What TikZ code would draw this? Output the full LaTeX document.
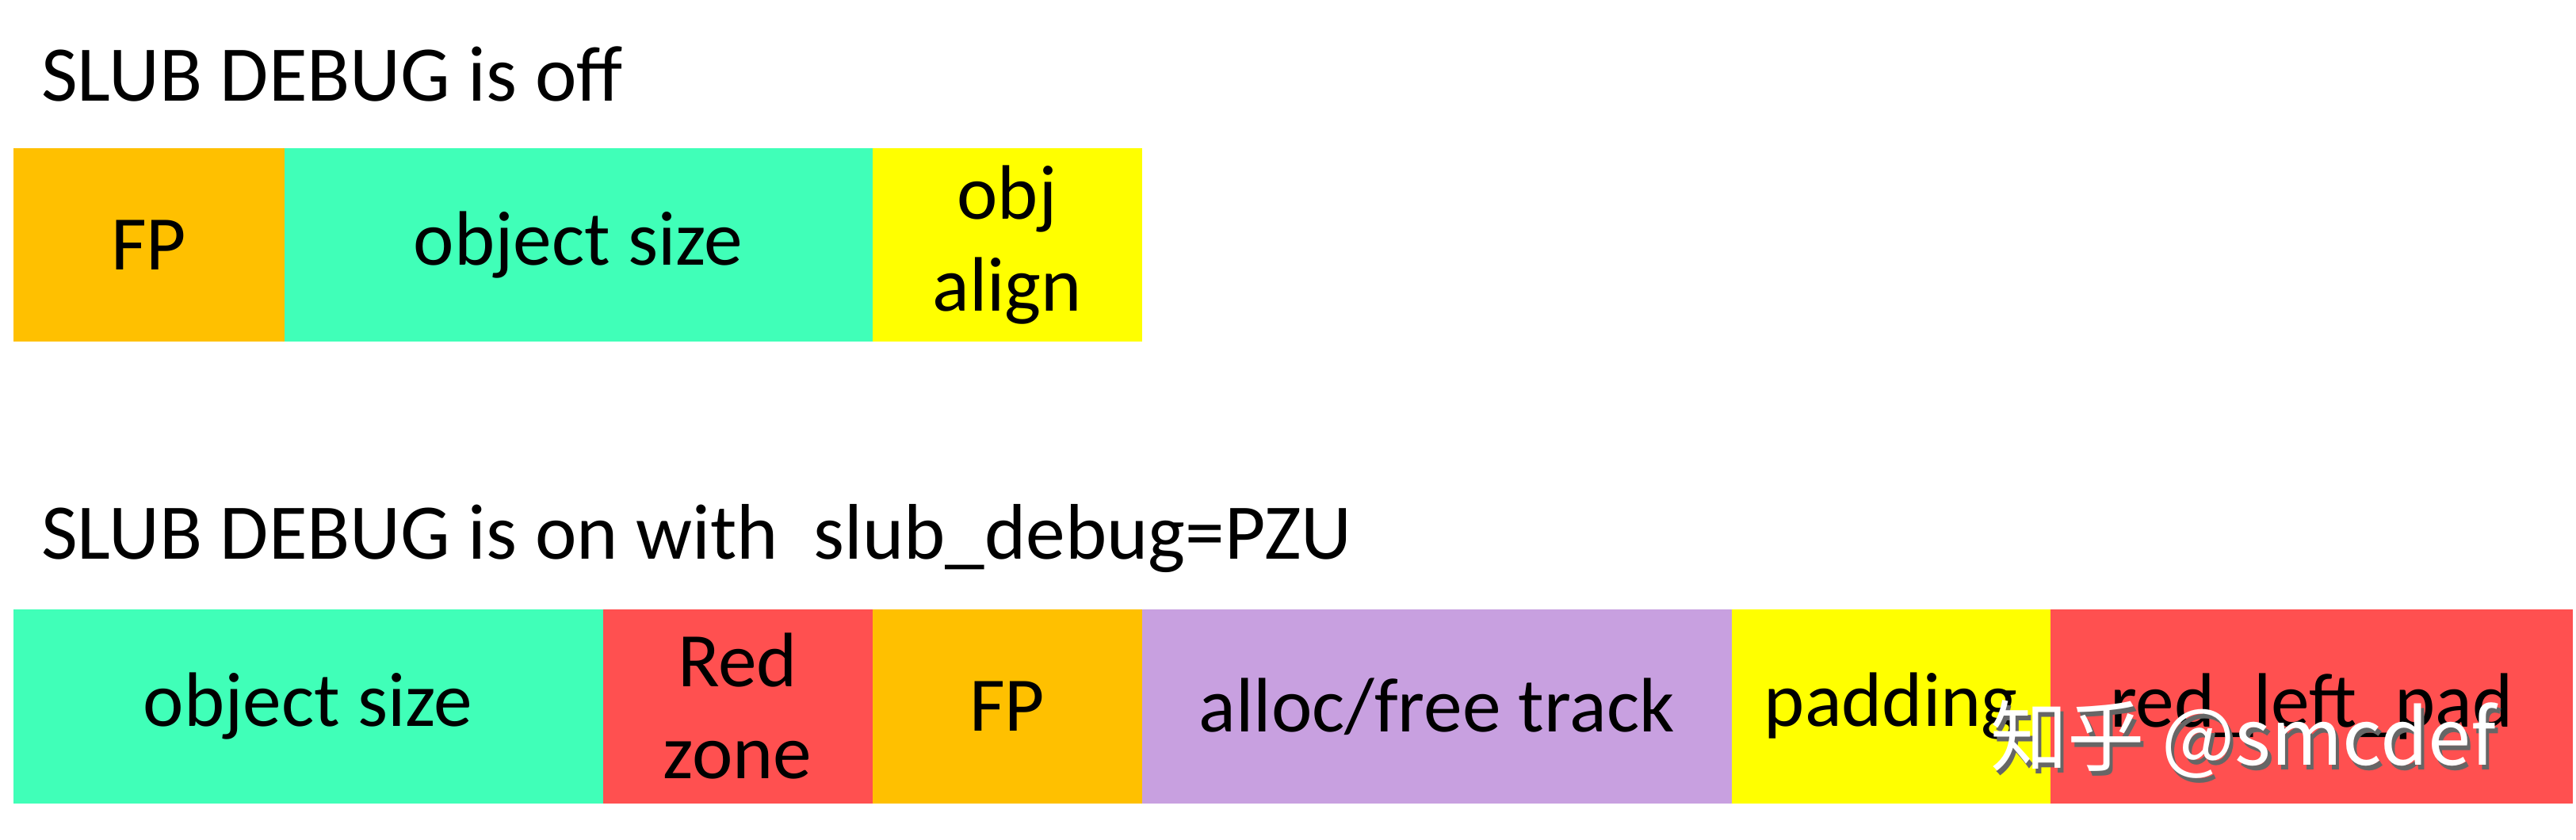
\documentclass[tikz,border=0pt]{standalone}
\usepackage{fontspec}
\setmainfont{Carlito}
\newfontfamily\cjk{Noto Sans CJK SC}
\definecolor{cfp}{HTML}{FFC000}
\definecolor{cobj}{HTML}{40FFB8}
\definecolor{cyel}{HTML}{FFFF00}
\definecolor{cred}{HTML}{FF5050}
\definecolor{cpur}{HTML}{C8A0E0}
\begin{document}
\begin{tikzpicture}[x=1pt,y=-1pt,
  seg/.style={inner sep=0pt,outer sep=0pt,font=\fontsize{47}{56}\selectfont,align=center},
  ttl/.style={anchor=west,inner sep=0pt,font=\fontsize{48}{54}\selectfont}]
\useasboundingbox (0,0) rectangle (1568,511);
\fill[cfp] (8,90) rectangle (173,208);
\fill[cobj] (173,90) rectangle (531,208);
\fill[cyel] (531,90) rectangle (695,208);
\node[ttl] (t1) at (25,45) {SLUB DEBUG is off};
\node[seg] (a1) at (90.5,149) {FP};
\node[seg] (a2) at (352,149) {object size};
\node[seg] (a3) at (613,149) {obj\\align};
\fill[cobj] (8,371) rectangle (367,489);
\fill[cred] (367,371) rectangle (531,489);
\fill[cfp] (531,371) rectangle (695,489);
\fill[cpur] (695,371) rectangle (1054,489);
\fill[cyel] (1054,371) rectangle (1248,489);
\fill[cred] (1248,371) rectangle (1566,489);
\node[ttl] (t2) at (25,328) {SLUB DEBUG is on with\ \ slub\_debug=PZU};
\node[seg] (b1) at (187.5,430) {object size};
\node[seg] (b2) at (449,430) {Red\\zone};
\node[seg] (b3) at (613,430) {FP};
\node[seg] (b4) at (874.5,430) {alloc/free track};
\node[seg] (b5) at (1151,430) {padding};
\node[seg] (b6) at (1407,430) {red\_left\_pad};
\node[anchor=west,text=black!60,font=\fontsize{47}{52}\selectfont] (w0) at (1210,453) {\cjk 知乎 @smcdef};
\node[anchor=west,text=white,font=\fontsize{47}{52}\selectfont] (w) at (1208,450) {\cjk 知乎 @smcdef};
\end{tikzpicture}
\end{document}
